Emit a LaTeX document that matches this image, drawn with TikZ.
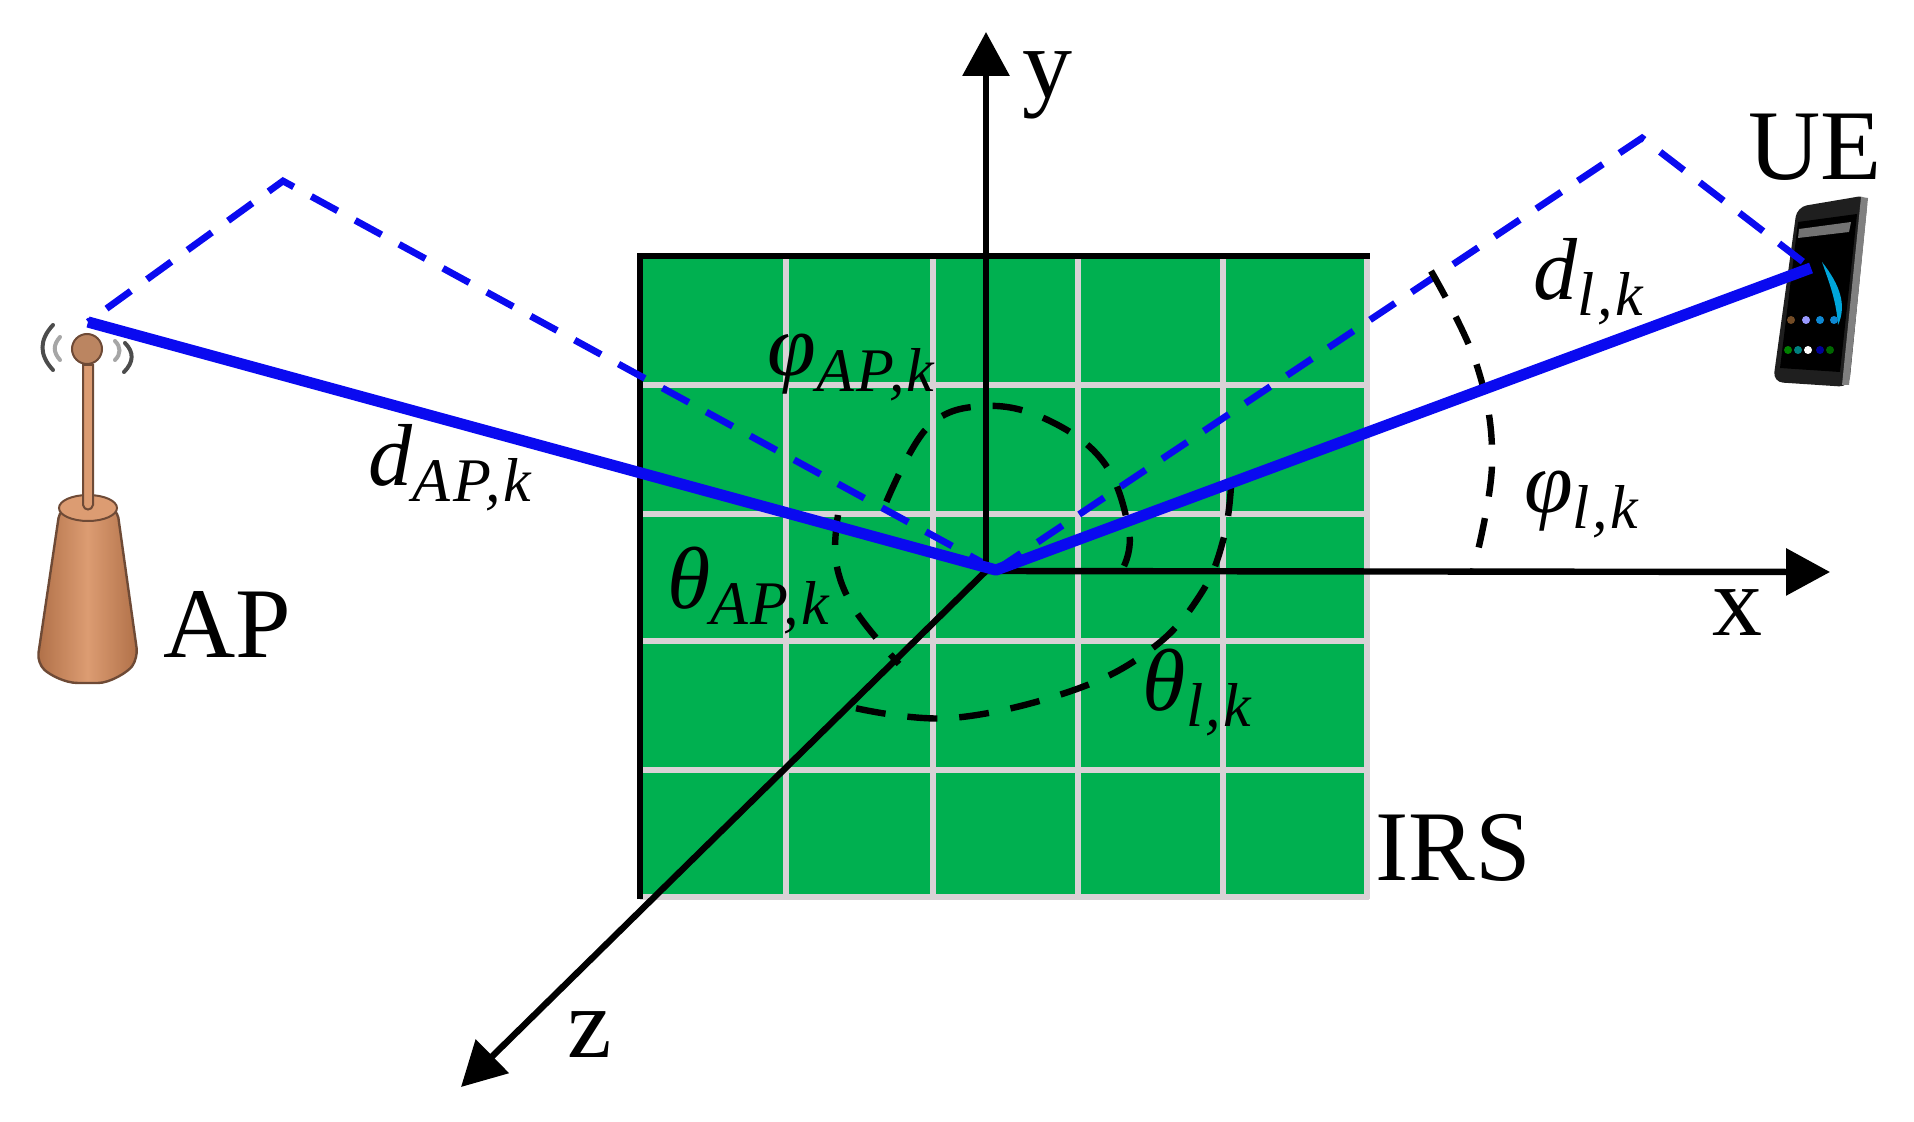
\documentclass[tikz,border=0pt]{standalone}
\usepackage{fontspec}
\setmainfont{Liberation Serif}
\usetikzlibrary{arrows.meta}
\definecolor{irsgreen}{HTML}{00B050}
\definecolor{irsgrid}{HTML}{D9D2D6}
\definecolor{raybl}{HTML}{0A0AF0}
\definecolor{apmid}{HTML}{DC9C72}
\definecolor{apdark}{HTML}{B07048}
\definecolor{apline}{HTML}{6E4A36}
\newcommand\symlbl[2]{{\fontsize{44}{46}\selectfont\itshape #1}\raisebox{-8pt}{\addfontfeature{LetterSpace=4}\fontsize{31}{33}\selectfont\itshape #2}}
\tikzset{
  axisline/.style={line width=3.2pt,-{Triangle[length=22pt,width=23pt]}},
  rayline/.style={raybl,line width=5.6pt,line join=round},
  raydash/.style={raybl,line width=3.4pt,dash pattern=on 15pt off 10pt,line join=miter},
  anglearc/.style={black,line width=3.2pt,dash pattern=on 15pt off 11pt},
  gridline/.style={irsgrid,line width=3.4pt},
  bigtext/.style={font=\fontsize{50}{55}\selectfont,inner sep=0pt},
  symtext/.style={inner sep=0pt},
  wave/.style={line width=2pt,line cap=round}
}
\begin{document}
\begin{tikzpicture}[x=0.5pt,y=-0.5pt]
\useasboundingbox (0,0) rectangle (1914,1122);
\fill[white] (0,0) rectangle (1914,1122);
% key points
\coordinate (O) at (986,571);
\coordinate (R) at (996,570);
\coordinate (AP) at (88,322);
\coordinate (APpeak) at (283,181);
\coordinate (UE) at (1811,268);
\coordinate (UEpeak) at (1642,138);
\coordinate (xEnd) at (1830,572);
\coordinate (yEnd) at (986,32);
\coordinate (zEnd) at (461,1087);
% IRS panel
\fill[irsgreen] (640,256) rectangle (1367,897);
\foreach \vx in {786,933,1078,1223,1367}{\draw[gridline] (\vx,256) -- (\vx,899);}
\foreach \hy in {385,514,641,770,897}{\draw[gridline] (640,\hy) -- (1369,\hy);}
\draw[black,line width=3.4pt] (640,899) -- (640,256) -- (1370,256);
% AP antenna
\draw[wave,black!70] (53,325) .. controls (39,340) and (39,355) .. (53,370);
\draw[wave,black!35] (60,337) .. controls (53,345) and (53,352) .. (60,360);
\draw[wave,black!35] (115,341) .. controls (121,347) and (121,354) .. (115,360);
\draw[wave,black!70] (125,343) .. controls (134,352) and (134,362) .. (124,372);
\path[left color=apdark,right color=apdark,middle color=apmid,draw=apline,line width=1.2pt,rounded corners=5pt]
  (60,508) -- (37,663) .. controls (50,675) and (65,683) .. (88,683) .. controls (110,683) and (128,672) .. (138,658) -- (117,508) -- cycle;
\path[fill=apmid,draw=apline,line width=1pt] (88,508) ellipse [x radius=29,y radius=13];
\fill[apmid,draw=apline,line width=1pt] (83,365) -- (93,365) -- (93,505) .. controls (92,511) and (84,511) .. (83,505) -- cycle;
\path[fill=apmid!85!black,draw=apline,line width=1pt] (87,349) circle [radius=15];
% UE phone
\fill[black!88,rounded corners=5pt] (1797,207) -- (1868,195) -- (1849,387) -- (1773,382) -- cycle;
\fill[black!50] (1861,197) -- (1868,198) -- (1849,385) -- (1842,385) -- cycle;
\fill[black] (1798,222) -- (1857,214) -- (1840,372) -- (1780,368) -- cycle;
\fill[black!55] (1799,229) -- (1851,222) -- (1849,232) -- (1798,238) -- cycle;
\fill[black!40!blue!35!cyan] (1822,262) .. controls (1840,285) and (1847,305) .. (1838,325) .. controls (1836,300) and (1830,285) .. (1822,262) -- cycle;
\foreach \dx/\dy/\dc in {1791/320/brown!60!black,1806/320/blue!40!white,1820/320/cyan!70!blue,1834/320/cyan!70!blue,1788/350/green!50!black,1798/350/teal,1808/350/white,1820/350/blue!60!black,1830/350/green!40!black}{\fill[\dc] (\dx,\dy) circle [radius=4];}
% dashed rays
\draw[raydash] (R) -- (APpeak) -- (AP);
\draw[raydash] (R) -- (UEpeak) -- (UE);
% angle arcs
\draw[anglearc] plot[smooth,tension=.65] coordinates {(1124,566) (1129,531) (1105,464) (1050,421) (986,406) (928,427) (885,505)};
\draw[anglearc] plot[smooth,tension=.65] coordinates {(838,515) (836,562) (855,610) (899,664)};
\draw[anglearc] plot[smooth,tension=.65] coordinates {(1231,486) (1224,537) (1202,592) (1154,647) (1074,690) (952,718) (855,708)};
\draw[anglearc] plot[smooth,tension=.65] coordinates {(1431,271) (1477,366) (1492,464) (1473,571)};
% axes
\draw[axisline] (O) -- (yEnd);
\draw[axisline] (O) -- (xEnd);
\draw[axisline] (O) -- (zEnd);
% solid rays
\draw[rayline] (AP) -- (R) -- (UE);
% labels
\node[bigtext] (lblAP) at (227,624) {AP};
\node[bigtext] (lblUE) at (1815,147) {UE};
\node[bigtext] (lblIRS) at (1453,848) {IRS};
\node[bigtext] (lblx) at (1737,613) {x};
\node[bigtext] (lbly) at (1047,85) {y};
\node[bigtext] (lblz) at (590,1035) {z};
\node[symtext] (dap) at (450,468) {\symlbl{d}{AP,k}};
\node[symtext] (dl) at (1588,282) {\symlbl{d}{l,k}};
\node[symtext] (phiap) at (851,368) {\symlbl{φ}{AP,k}};
\node[symtext] (phil) at (1581,505) {\symlbl{φ}{l,k}};
\node[symtext] (thap) at (748,590) {\symlbl{θ}{AP,k}};
\node[symtext] (thl) at (1197,692) {\symlbl{θ}{l,k}};
\end{tikzpicture}
\end{document}
